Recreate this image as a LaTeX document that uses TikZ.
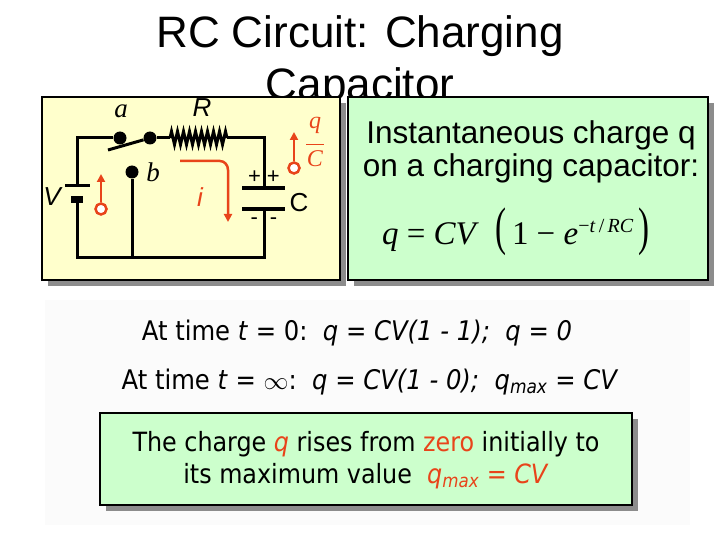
\documentclass[tikz,border=0pt]{standalone}
\usepackage{fontspec}
\setmainfont{Liberation Sans}
\newfontfamily\tahoma{DejaVu Sans Condensed}
\newfontfamily\tms{Liberation Serif}
\usetikzlibrary{decorations.pathmorphing,arrows.meta}
\definecolor{ybox}{HTML}{FFFFCC}
\definecolor{gbox}{HTML}{CCFFCC}
\definecolor{rd}{HTML}{E8441A}
\tikzset{x=1pt,y=-1pt,
 panel/.style={draw=black,line width=2.5pt},
 shadowbox/.style={fill=black!45},
 wire/.style={line width=3pt},
 dotnode/.style={circle,fill=black,inner sep=0pt,minimum size=13pt},
 probe/.style={circle,draw=rd,line width=2.5pt,fill=white,inner sep=0pt,minimum size=11pt},
 rarrow/.style={draw=rd,line width=2.5pt,-{Triangle[length=8pt,width=8pt]}},
 lbl/.style={inner sep=0pt}}
\begin{document}
\begin{tikzpicture}
\useasboundingbox (0,0) rectangle (720,540);
\fill[white] (0,0) rectangle (720,540);
\fill[black!1.5] (45,300) rectangle (690,525);
% title
\node[lbl,font=\fontsize{44}{44}\selectfont] (t1) at (360,36) {RC Circuit: Charging};
\node[lbl,font=\fontsize{44}{44}\selectfont] (t2) at (360,88) {Capacitor};
% boxes
\fill[shadowbox] (48,103) rectangle (346,286);
\draw[panel,fill=ybox] (42,97) rectangle (340,280);
\fill[shadowbox] (354,103) rectangle (714,286);
\draw[panel,fill=gbox] (348,97) rectangle (708,280);
\fill[shadowbox] (106,419) rectangle (638,511);
\draw[panel,fill=gbox] (100,413) rectangle (632,505);
% circuit
\coordinate (tl) at (77,138); \coordinate (bl) at (77,257);
\coordinate (br) at (264,257); \coordinate (tr) at (264,138);
\node[dotnode] (a) at (120,138) {};
\node[dotnode] (a2) at (150,138) {};
\node[dotnode] (b) at (132,172) {};
\coordinate (bb) at (132,257);
\coordinate (sw) at (108,150);
\coordinate (r1) at (170,138); \coordinate (r2) at (227,138);
\coordinate (bt1) at (77,186); \coordinate (bt2) at (77,200);
\coordinate (c1) at (264,188); \coordinate (c2) at (264,209);
\draw[wire] (bt1) -- (tl) -- (a);
\draw[wire] (sw) -- (a2);
\draw[wire] (a2) -- (r1);
\draw[wire,decoration={zigzag,segment length=6pt,amplitude=6.5pt},decorate] (r1) -- (r2);
\draw[wire] (r2) -- (tr) -- (c1);
\draw[wire] (c2) -- (br) -- (bl) -- (bt2);
\draw[wire] (b) -- (bb);
\draw[line width=3pt] (65,186) -- (90,186);
\draw[line width=7pt] (71,200) -- (83,200);
\draw[line width=4pt] (242,188) -- (285,188);
\draw[line width=4pt] (242,209) -- (285,209);
\node[lbl,font=\fontsize{22}{22}\selectfont] (pp) at (264,177) {+\hspace{6pt}+};
\node[lbl,font=\fontsize{22}{22}\selectfont] (mm) at (264,221) {-\hspace{12pt}-};
\node[lbl,font=\fontsize{26}{26}\selectfont] (cl) at (299,203) {C};
\node[lbl,font=\fontsize{26}{26}\selectfont\itshape] (vl) at (52,197) {V};
\node[lbl,font=\fontsize{27}{27}\selectfont\tms\itshape] (al) at (121,111) {a};
\node[lbl,font=\fontsize{26}{26}\selectfont\itshape] (rl) at (202,108) {R};
\node[lbl,font=\fontsize{27}{27}\selectfont\tms\itshape] (bl2) at (153,172) {b};
% probes
\node[probe] (p1) at (101,209) {};
\coordinate (p1t) at (101,174);
\draw[rarrow] (p1) -- (p1t);
\node[probe] (p2) at (294,168) {};
\coordinate (p2t) at (294,132);
\draw[rarrow] (p2) -- (p2t);
\node[lbl,text=rd,font=\fontsize{24}{24}\selectfont\tms\itshape,align=center] (qc) at (315,142) {q\\[-8pt]\rule{18pt}{1pt}\\[-2pt]C};
% current
\coordinate (i1) at (180,161); \coordinate (i2) at (228,222);
\draw[rarrow] (i1) -- (220,161) to[out=0,in=90] (228,170) -- (i2);
\node[lbl,text=rd,font=\fontsize{26}{26}\selectfont\itshape] (il) at (200,197) {i};
% right box text
\node[lbl,font=\fontsize{31.5}{31.5}\selectfont,align=center] (rt) at (531,152) {Instantaneous charge q\\[2pt]on a charging capacitor:};
\node[lbl,font=\fontsize{33}{33}\selectfont\tms] (eq) at (516,232) {\textit{q} = \textit{CV}\ \ \scalebox{1}[1.6]{(}\,1 − \textit{e}\raisebox{12pt}{\fontsize{20}{20}\selectfont −\textit{t}\,/\,\textit{RC}}\,\scalebox{1}[1.6]{)}};
% middle lines
\node[lbl,font=\fontsize{27}{27}\selectfont\tahoma] (l1) at (357,333) {At time \textit{t} = 0:\ \ \textit{q = CV(1 - 1);\ \ q = 0}};
\node[lbl,font=\fontsize{27}{27}\selectfont\tahoma] (l2) at (370,382) {At time \textit{t} = $\infty$:\ \ \textit{q = CV(1 - 0);\ \ q\textsubscript{max} = CV}};
% bottom text
\node[lbl,font=\fontsize{26.5}{26.5}\selectfont\tahoma,align=center] (bt) at (366,460) {The charge \textcolor{rd}{\textit{q}} rises from \textcolor{rd}{zero} initially to\\[6pt]its maximum value\ \ \textcolor{rd}{\textit{q\textsubscript{max}} = \textit{CV}}};
\end{tikzpicture}
\end{document}
